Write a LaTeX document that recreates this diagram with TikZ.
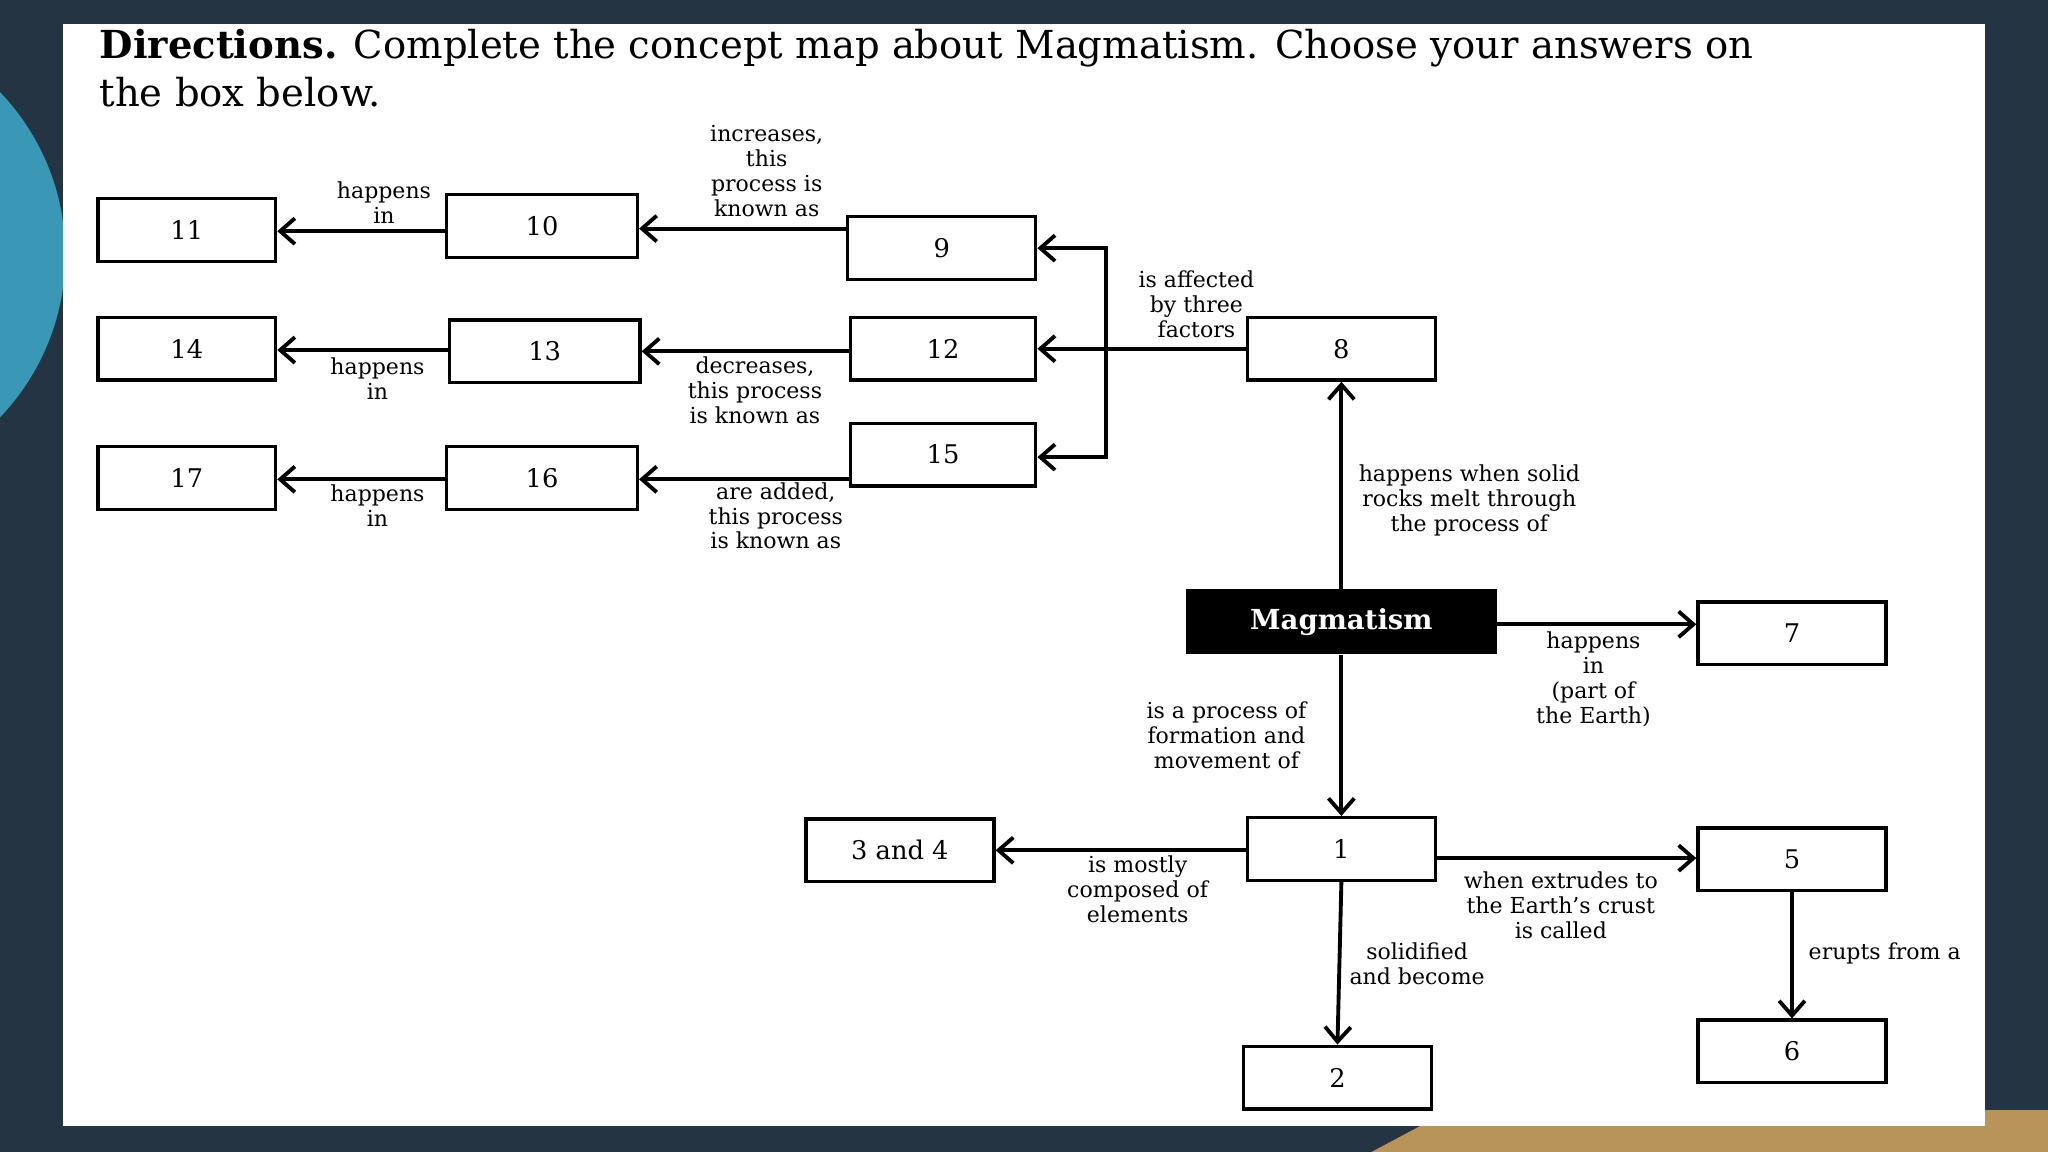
\documentclass[tikz,border=0pt]{standalone}
\usepackage{tikz}
\usepackage{fontspec}
\setmainfont{DejaVu Serif}
\usetikzlibrary{arrows.meta}
\definecolor{navy}{HTML}{253443}
\definecolor{teal}{HTML}{3A97B5}
\definecolor{tan}{HTML}{B8935A}
\begin{document}
\begin{tikzpicture}[x=0.025cm, y=-0.025cm,
  box/.style={draw, line width=1.8pt, minimum width=3.4cm, minimum height=1.2cm, inner sep=0pt, font=\fontsize{14}{16}\selectfont},
  lab/.style={align=center, font=\fontsize{12}{13.5}\selectfont, inner sep=0pt},
  arr/.style={line width=2.1pt, -{Straight Barb[length=8pt, width=14pt, line width=2.1pt]}},
  ln/.style={line width=2.1pt}]
  % background
  \useasboundingbox (0,0) rectangle (1568,882);
  \fill[navy] (0,0) rectangle (1568,882);
  \begin{scope}
    \clip (0,0) rectangle (1568,882);
    \fill[teal] (-130,195) circle (180);
  \end{scope}
  \fill[tan] (1050,882) -- (1110,850) -- (1568,850) -- (1568,882) -- cycle;
  \fill[white] (48,18) rectangle (1520,862);
  % title
  \node[anchor=north west, align=left, inner sep=0pt, font=\fontsize{21}{26}\selectfont] (title) at (76,22)
    {\textbf{Directions.} Complete the concept map about Magmatism. Choose your answers on\\ the box below.};
  % boxes
  \node[box] (b11) at (143,176) {11};
  \node[box, minimum width=3.65cm] (b10) at (415,173) {10};
  \node[box, minimum width=3.6cm] (b9) at (721,190) {9};
  \node[box] (b14) at (143,267) {14};
  \node[box, minimum width=3.65cm] (b13) at (417,269) {13};
  \node[box, minimum width=3.55cm] (b12) at (722,267) {12};
  \node[box, minimum width=3.6cm] (b8) at (1027,267) {8};
  \node[box] (b17) at (143,366) {17};
  \node[box, minimum width=3.65cm] (b16) at (415,366) {16};
  \node[box, minimum width=3.55cm] (b15) at (722,348) {15};
  \node[fill=black, text=white, minimum width=5.95cm, minimum height=1.25cm, inner sep=0pt, font=\bfseries\fontsize{15}{17}\selectfont] (mag) at (1027,476) {Magmatism};
  \node[box, minimum width=3.6cm] (b7) at (1372,485) {7};
  \node[box, minimum width=3.6cm] (b34) at (689,651) {3 and 4};
  \node[box, minimum width=3.6cm] (b1) at (1027,650) {1};
  \node[box, minimum width=3.6cm] (b5) at (1372,658) {5};
  \node[box, minimum width=3.6cm] (b2) at (1024,825) {2};
  \node[box, minimum width=3.6cm] (b6) at (1372,805) {6};
  % junction of factors
  \coordinate (j) at (847,267);
  \coordinate (jt) at (847,190);
  \coordinate (jb) at (847,350);
  \draw[ln] (b8.west) -- (j);
  \draw[ln] ([yshift=1pt]jt) -- ([yshift=-1pt]jb);
  \draw[arr] (jt) -- (b9.east |- jt);
  \draw[arr] (j) -- (b12.east);
  \draw[arr] (jb) -- (b15.east |- jb);
  \node[lab] (l8) at (916,233) {is affected\\by three\\factors};
  % left chains
  \draw[arr] (b9.west |- 0,175) -- (b10.east |- 0,175);
  \node[lab] (l9) at (587,131) {increases,\\this\\process is\\known as};
  \draw[arr] (b10.west |- 0,177) -- (b11.east |- 0,177);
  \node[lab] (l10) at (294,155) {happens\\in};
  \draw[arr] (b12.west |- 0,269) -- (b13.east |- 0,269);
  \node[lab] (l12) at (578,299) {decreases,\\this process\\is known as};
  \draw[arr] (b13.west |- 0,268) -- (b14.east |- 0,268);
  \node[lab] (l13) at (289,290) {happens\\in};
  \draw[arr] (b15.west |- 0,367) -- (b16.east |- 0,367);
  \node[lab] (l15) at (594,395) {are added,\\this process\\is known as};
  \draw[arr] (b16.west |- 0,367) -- (b17.east |- 0,367);
  \node[lab] (l16) at (289,387) {happens\\in};
  % magmatism connectors
  \draw[arr] (mag.north) -- (b8.south);
  \node[lab] (lm8) at (1125,383) {happens when solid\\rocks melt through\\the process of};
  \draw[arr] (mag.east |- 0,478) -- (b7.west |- 0,478);
  \node[lab] (lm7) at (1220,520) {happens\\in\\(part of\\the Earth)};
  \draw[arr] (mag.south) -- (b1.north);
  \node[lab] (lm1) at (939,563) {is a process of\\formation and\\movement of};
  \draw[arr] (b1.west |- 0,651) -- (b34.east |- 0,651);
  \node[lab] (l34) at (871,681) {is mostly\\composed of\\elements};
  \draw[arr] (b1.east |- 0,657) -- (b5.west |- 0,657);
  \node[lab] (l5) at (1195,693) {when extrudes to\\the Earth's crust\\is called};
  \draw[arr] (b1.south) -- (b2.north);
  \node[lab] (l2) at (1085,738) {solidified\\and become};
  \draw[arr] (b5.south) -- (b6.north);
  \node[lab] (l6) at (1443,730) {erupts from a};
\end{tikzpicture}
\end{document}
